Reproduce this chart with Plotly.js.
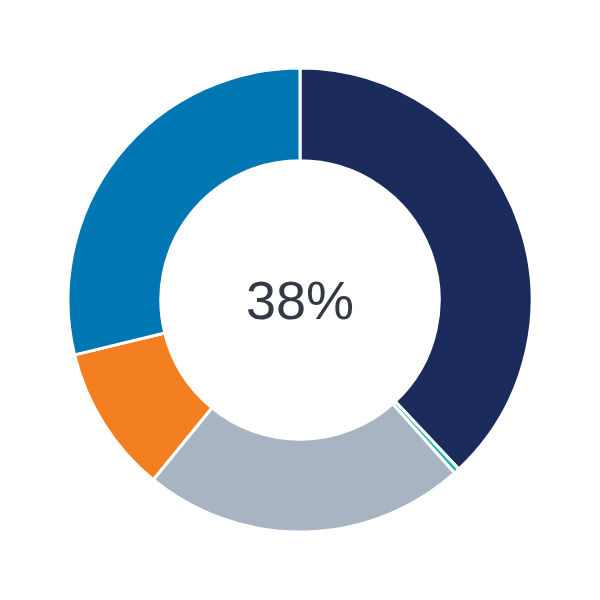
<!DOCTYPE html>
<html>
<head>
<meta charset="utf-8">
<script src="https://cdn.plot.ly/plotly-3.0.1.min.js"></script>
<style>
  html, body { margin: 0; padding: 0; background: #fff; }
  #myDiv { width: 600px; height: 600px; }
</style>
</head>
<body>
<div id="myDiv"></div>
<script>
// slice values (percent)
var labels = ['A', 'B', 'C', 'D', 'E'];
var values = [38, 0.4, 22.5, 10.3, 28.8];
var colors = ['#1b2b5b', '#1ab3a6', '#a9b4c2', '#f47f20', '#0076b3'];
var centerText = '38%';

var trace = {
  type: 'pie',
  labels: labels,
  values: values,
  hole: 0.6,
  sort: false,
  direction: 'clockwise',
  rotation: 0,
  textinfo: 'none',
  hoverinfo: 'none',
  marker: {colors: colors, line: {color: '#ffffff', width: 3}}
};

var layout = {
  width: 600,
  height: 600,
  margin: {l: 68, r: 68, t: 68, b: 68},
  showlegend: false,
  paper_bgcolor: '#ffffff',
  annotations: [{
    text: centerText,
    x: 0.5, y: 0.5, xref: 'paper', yref: 'paper',
    showarrow: false,
    font: {family: 'Liberation Sans, Arial, sans-serif', size: 54, color: '#343a45'}
  }]
};

Plotly.newPlot('myDiv', [trace], layout, {displayModeBar: false});
</script>
</body>
</html>
